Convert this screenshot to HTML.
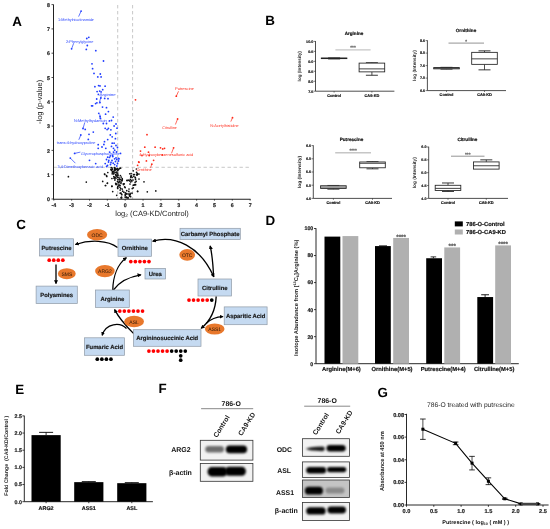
<!DOCTYPE html>
<html><head><meta charset="utf-8"><title>Figure</title>
<style>html,body{margin:0;padding:0;background:#fff;}body{width:550px;height:529px;overflow:hidden;}svg{display:block;text-rendering:geometricPrecision;font-family:"Liberation Sans",Arial,sans-serif;}</style>
</head><body>
<svg width="550" height="529" viewBox="0 0 550 529" font-family="Liberation Sans, Arial, sans-serif"><defs>
<marker id="ah" viewBox="0 0 10 10" refX="8" refY="5" markerWidth="3.1" markerHeight="3.1" orient="auto-start-reverse" markerUnits="strokeWidth"><path d="M0,0 L10,5 L0,10 z" fill="#000"/></marker>
<marker id="ahs" viewBox="0 0 10 10" refX="8" refY="5" markerWidth="3.1" markerHeight="3.1" orient="auto-start-reverse" markerUnits="strokeWidth"><path d="M0,0 L10,5 L0,10 z" fill="#000"/></marker>
<filter id="bl" x="-50%" y="-100%" width="200%" height="300%"><feGaussianBlur stdDeviation="1.15"/></filter>
</defs><text x="12.20" y="25.50" font-size="13.4" text-anchor="start" font-weight="bold" fill="#000" >A</text>
<text x="265.20" y="25.20" font-size="13.4" text-anchor="start" font-weight="bold" fill="#000" >B</text>
<text x="16.30" y="229.20" font-size="13.4" text-anchor="start" font-weight="bold" fill="#000" >C</text>
<text x="265.60" y="225.10" font-size="13.4" text-anchor="start" font-weight="bold" fill="#000" >D</text>
<text x="15.20" y="394.00" font-size="13.4" text-anchor="start" font-weight="bold" fill="#000" >E</text>
<text x="158.60" y="393.40" font-size="13.4" text-anchor="start" font-weight="bold" fill="#000" >F</text>
<text x="377.60" y="396.70" font-size="13.4" text-anchor="start" font-weight="bold" fill="#000" >G</text>
<line x1="117.70" y1="5.00" x2="117.70" y2="199.00" stroke="#b0b0b0" stroke-width="0.7" stroke-dasharray="3.4,2.6"/>
<line x1="132.60" y1="5.00" x2="132.60" y2="199.00" stroke="#b0b0b0" stroke-width="0.7" stroke-dasharray="3.4,2.6"/>
<line x1="53.50" y1="167.30" x2="250.00" y2="167.30" stroke="#b0b0b0" stroke-width="0.7" stroke-dasharray="3.4,2.6"/>
<line x1="53.50" y1="4.50" x2="53.50" y2="199.50" stroke="#222" stroke-width="1.0" />
<line x1="53.50" y1="199.20" x2="250.50" y2="199.20" stroke="#222" stroke-width="1.1" />
<line x1="51.50" y1="199.00" x2="53.50" y2="199.00" stroke="#222" stroke-width="0.8" />
<text x="50.00" y="201.20" font-size="5.3" text-anchor="end" font-weight="bold" fill="#222"  stroke="#222" stroke-width="0.18">0</text>
<line x1="51.50" y1="174.70" x2="53.50" y2="174.70" stroke="#222" stroke-width="0.8" />
<text x="50.00" y="176.90" font-size="5.3" text-anchor="end" font-weight="bold" fill="#222"  stroke="#222" stroke-width="0.18">1</text>
<line x1="51.50" y1="150.40" x2="53.50" y2="150.40" stroke="#222" stroke-width="0.8" />
<text x="50.00" y="152.60" font-size="5.3" text-anchor="end" font-weight="bold" fill="#222"  stroke="#222" stroke-width="0.18">2</text>
<line x1="51.50" y1="126.10" x2="53.50" y2="126.10" stroke="#222" stroke-width="0.8" />
<text x="50.00" y="128.30" font-size="5.3" text-anchor="end" font-weight="bold" fill="#222"  stroke="#222" stroke-width="0.18">3</text>
<line x1="51.50" y1="101.80" x2="53.50" y2="101.80" stroke="#222" stroke-width="0.8" />
<text x="50.00" y="104.00" font-size="5.3" text-anchor="end" font-weight="bold" fill="#222"  stroke="#222" stroke-width="0.18">4</text>
<line x1="51.50" y1="77.50" x2="53.50" y2="77.50" stroke="#222" stroke-width="0.8" />
<text x="50.00" y="79.70" font-size="5.3" text-anchor="end" font-weight="bold" fill="#222"  stroke="#222" stroke-width="0.18">5</text>
<line x1="51.50" y1="53.20" x2="53.50" y2="53.20" stroke="#222" stroke-width="0.8" />
<text x="50.00" y="55.40" font-size="5.3" text-anchor="end" font-weight="bold" fill="#222"  stroke="#222" stroke-width="0.18">6</text>
<line x1="51.50" y1="28.90" x2="53.50" y2="28.90" stroke="#222" stroke-width="0.8" />
<text x="50.00" y="31.10" font-size="5.3" text-anchor="end" font-weight="bold" fill="#222"  stroke="#222" stroke-width="0.18">7</text>
<line x1="51.50" y1="4.60" x2="53.50" y2="4.60" stroke="#222" stroke-width="0.8" />
<text x="50.00" y="6.80" font-size="5.3" text-anchor="end" font-weight="bold" fill="#222"  stroke="#222" stroke-width="0.18">8</text>
<line x1="53.80" y1="199.00" x2="53.80" y2="200.60" stroke="#222" stroke-width="0.8" />
<text x="53.80" y="206.80" font-size="5.3" text-anchor="middle" font-weight="bold" fill="#222"  stroke="#222" stroke-width="0.18">-4</text>
<line x1="71.65" y1="199.00" x2="71.65" y2="200.60" stroke="#222" stroke-width="0.8" />
<text x="71.65" y="206.80" font-size="5.3" text-anchor="middle" font-weight="bold" fill="#222"  stroke="#222" stroke-width="0.18">-3</text>
<line x1="89.50" y1="199.00" x2="89.50" y2="200.60" stroke="#222" stroke-width="0.8" />
<text x="89.50" y="206.80" font-size="5.3" text-anchor="middle" font-weight="bold" fill="#222"  stroke="#222" stroke-width="0.18">-2</text>
<line x1="107.35" y1="199.00" x2="107.35" y2="200.60" stroke="#222" stroke-width="0.8" />
<text x="107.35" y="206.80" font-size="5.3" text-anchor="middle" font-weight="bold" fill="#222"  stroke="#222" stroke-width="0.18">-1</text>
<line x1="125.20" y1="199.00" x2="125.20" y2="200.60" stroke="#222" stroke-width="0.8" />
<text x="125.20" y="206.80" font-size="5.3" text-anchor="middle" font-weight="bold" fill="#222"  stroke="#222" stroke-width="0.18">0</text>
<line x1="143.05" y1="199.00" x2="143.05" y2="200.60" stroke="#222" stroke-width="0.8" />
<text x="143.05" y="206.80" font-size="5.3" text-anchor="middle" font-weight="bold" fill="#222"  stroke="#222" stroke-width="0.18">1</text>
<line x1="160.90" y1="199.00" x2="160.90" y2="200.60" stroke="#222" stroke-width="0.8" />
<text x="160.90" y="206.80" font-size="5.3" text-anchor="middle" font-weight="bold" fill="#222"  stroke="#222" stroke-width="0.18">2</text>
<line x1="178.75" y1="199.00" x2="178.75" y2="200.60" stroke="#222" stroke-width="0.8" />
<text x="178.75" y="206.80" font-size="5.3" text-anchor="middle" font-weight="bold" fill="#222"  stroke="#222" stroke-width="0.18">3</text>
<line x1="196.60" y1="199.00" x2="196.60" y2="200.60" stroke="#222" stroke-width="0.8" />
<text x="196.60" y="206.80" font-size="5.3" text-anchor="middle" font-weight="bold" fill="#222"  stroke="#222" stroke-width="0.18">4</text>
<line x1="214.45" y1="199.00" x2="214.45" y2="200.60" stroke="#222" stroke-width="0.8" />
<text x="214.45" y="206.80" font-size="5.3" text-anchor="middle" font-weight="bold" fill="#222"  stroke="#222" stroke-width="0.18">5</text>
<line x1="232.30" y1="199.00" x2="232.30" y2="200.60" stroke="#222" stroke-width="0.8" />
<text x="232.30" y="206.80" font-size="5.3" text-anchor="middle" font-weight="bold" fill="#222"  stroke="#222" stroke-width="0.18">6</text>
<line x1="250.15" y1="199.00" x2="250.15" y2="200.60" stroke="#222" stroke-width="0.8" />
<text x="250.15" y="206.80" font-size="5.3" text-anchor="middle" font-weight="bold" fill="#222"  stroke="#222" stroke-width="0.18">7</text>
<text x="152" y="215.6" font-size="7.5" text-anchor="middle" fill="#222">log<tspan font-size="4.8" dy="1.6">2</tspan><tspan dy="-1.6"> (CA9-KD/Control)</tspan></text>
<text transform="translate(42.4,101.9) rotate(-90)" font-size="7.5" text-anchor="middle" fill="#222">-log (p-value)</text>
<circle cx="68.40" cy="176.70" r="0.85" fill="#111"/>
<circle cx="86.30" cy="182.10" r="0.85" fill="#111"/>
<circle cx="104.50" cy="174.00" r="0.85" fill="#111"/>
<circle cx="106.80" cy="176.40" r="0.85" fill="#111"/>
<circle cx="102.70" cy="181.40" r="0.85" fill="#111"/>
<circle cx="105.50" cy="185.50" r="0.85" fill="#111"/>
<circle cx="111.80" cy="186.40" r="0.85" fill="#111"/>
<circle cx="144.00" cy="181.80" r="0.85" fill="#111"/>
<circle cx="147.30" cy="191.80" r="0.85" fill="#111"/>
<circle cx="137.70" cy="191.40" r="0.85" fill="#111"/>
<circle cx="139.00" cy="174.00" r="0.85" fill="#111"/>
<circle cx="139.00" cy="179.00" r="0.85" fill="#111"/>
<circle cx="134.50" cy="174.50" r="0.85" fill="#111"/>
<circle cx="137.30" cy="173.60" r="0.85" fill="#111"/>
<circle cx="130.90" cy="176.80" r="0.85" fill="#111"/>
<circle cx="135.50" cy="178.00" r="0.85" fill="#111"/>
<circle cx="155.80" cy="190.90" r="0.85" fill="#111"/>
<circle cx="136.40" cy="169.00" r="0.85" fill="#111"/>
<circle cx="127.30" cy="180.50" r="0.85" fill="#111"/>
<circle cx="131.80" cy="181.00" r="0.85" fill="#111"/>
<circle cx="130.00" cy="184.00" r="0.85" fill="#111"/>
<circle cx="134.50" cy="184.50" r="0.85" fill="#111"/>
<circle cx="129.00" cy="189.00" r="0.85" fill="#111"/>
<circle cx="112.20" cy="168.10" r="0.85" fill="#111"/>
<circle cx="114.60" cy="169.50" r="0.85" fill="#111"/>
<circle cx="116.50" cy="169.20" r="0.85" fill="#111"/>
<circle cx="117.60" cy="170.30" r="0.85" fill="#111"/>
<circle cx="112.50" cy="171.60" r="0.85" fill="#111"/>
<circle cx="115.20" cy="172.50" r="0.85" fill="#111"/>
<circle cx="116.80" cy="173.00" r="0.85" fill="#111"/>
<circle cx="107.80" cy="172.50" r="0.85" fill="#111"/>
<circle cx="104.80" cy="174.40" r="0.85" fill="#111"/>
<circle cx="106.50" cy="175.70" r="0.85" fill="#111"/>
<circle cx="112.20" cy="173.80" r="0.85" fill="#111"/>
<circle cx="115.70" cy="174.60" r="0.85" fill="#111"/>
<circle cx="117.10" cy="175.50" r="0.85" fill="#111"/>
<circle cx="113.80" cy="176.50" r="0.85" fill="#111"/>
<circle cx="115.20" cy="177.10" r="0.85" fill="#111"/>
<circle cx="117.60" cy="177.40" r="0.85" fill="#111"/>
<circle cx="120.40" cy="175.50" r="0.85" fill="#111"/>
<circle cx="111.90" cy="178.50" r="0.85" fill="#111"/>
<circle cx="114.90" cy="180.10" r="0.85" fill="#111"/>
<circle cx="119.30" cy="179.80" r="0.85" fill="#111"/>
<circle cx="119.80" cy="181.50" r="0.85" fill="#111"/>
<circle cx="118.50" cy="182.30" r="0.85" fill="#111"/>
<circle cx="107.50" cy="183.10" r="0.85" fill="#111"/>
<circle cx="115.70" cy="183.40" r="0.85" fill="#111"/>
<circle cx="130.70" cy="177.10" r="0.85" fill="#111"/>
<circle cx="133.70" cy="174.60" r="0.85" fill="#111"/>
<circle cx="126.90" cy="180.40" r="0.85" fill="#111"/>
<circle cx="129.60" cy="180.90" r="0.85" fill="#111"/>
<circle cx="131.30" cy="180.40" r="0.85" fill="#111"/>
<circle cx="130.70" cy="182.00" r="0.85" fill="#111"/>
<circle cx="105.50" cy="185.50" r="0.85" fill="#111"/>
<circle cx="107.30" cy="183.30" r="0.85" fill="#111"/>
<circle cx="112.00" cy="186.20" r="0.85" fill="#111"/>
<circle cx="112.70" cy="191.60" r="0.85" fill="#111"/>
<circle cx="116.70" cy="195.30" r="0.85" fill="#111"/>
<circle cx="137.50" cy="191.30" r="0.85" fill="#111"/>
<circle cx="135.60" cy="184.70" r="0.85" fill="#111"/>
<circle cx="114.71" cy="177.54" r="0.85" fill="#111"/>
<circle cx="117.58" cy="187.68" r="0.85" fill="#111"/>
<circle cx="118.89" cy="184.11" r="0.85" fill="#111"/>
<circle cx="115.86" cy="169.30" r="0.85" fill="#111"/>
<circle cx="114.84" cy="168.66" r="0.85" fill="#111"/>
<circle cx="111.31" cy="169.67" r="0.85" fill="#111"/>
<circle cx="122.14" cy="180.66" r="0.85" fill="#111"/>
<circle cx="113.35" cy="171.34" r="0.85" fill="#111"/>
<circle cx="124.64" cy="186.95" r="0.85" fill="#111"/>
<circle cx="119.55" cy="185.39" r="0.85" fill="#111"/>
<circle cx="121.04" cy="197.76" r="0.85" fill="#111"/>
<circle cx="121.46" cy="194.11" r="0.85" fill="#111"/>
<circle cx="112.43" cy="171.97" r="0.85" fill="#111"/>
<circle cx="121.17" cy="177.06" r="0.85" fill="#111"/>
<circle cx="117.74" cy="173.10" r="0.85" fill="#111"/>
<circle cx="119.94" cy="187.31" r="0.85" fill="#111"/>
<circle cx="116.35" cy="184.48" r="0.85" fill="#111"/>
<circle cx="112.49" cy="169.35" r="0.85" fill="#111"/>
<circle cx="120.79" cy="188.59" r="0.85" fill="#111"/>
<circle cx="118.93" cy="177.24" r="0.85" fill="#111"/>
<circle cx="117.48" cy="181.55" r="0.85" fill="#111"/>
<circle cx="123.90" cy="192.13" r="0.85" fill="#111"/>
<circle cx="118.21" cy="175.07" r="0.85" fill="#111"/>
<circle cx="123.31" cy="183.78" r="0.85" fill="#111"/>
<circle cx="120.15" cy="190.11" r="0.85" fill="#111"/>
<circle cx="121.55" cy="197.89" r="0.85" fill="#111"/>
<circle cx="121.43" cy="180.46" r="0.85" fill="#111"/>
<circle cx="116.50" cy="172.21" r="0.85" fill="#111"/>
<circle cx="117.50" cy="168.72" r="0.85" fill="#111"/>
<circle cx="122.69" cy="191.20" r="0.85" fill="#111"/>
<circle cx="121.80" cy="194.64" r="0.85" fill="#111"/>
<circle cx="122.26" cy="189.05" r="0.85" fill="#111"/>
<circle cx="120.09" cy="185.48" r="0.85" fill="#111"/>
<circle cx="126.06" cy="193.54" r="0.85" fill="#111"/>
<circle cx="121.02" cy="182.20" r="0.85" fill="#111"/>
<circle cx="118.05" cy="169.38" r="0.85" fill="#111"/>
<circle cx="125.15" cy="187.56" r="0.85" fill="#111"/>
<circle cx="121.06" cy="192.98" r="0.85" fill="#111"/>
<circle cx="120.34" cy="179.46" r="0.85" fill="#111"/>
<circle cx="115.02" cy="168.20" r="0.85" fill="#111"/>
<circle cx="112.68" cy="172.71" r="0.85" fill="#111"/>
<circle cx="118.79" cy="169.33" r="0.85" fill="#111"/>
<circle cx="113.67" cy="171.51" r="0.85" fill="#111"/>
<circle cx="122.31" cy="179.62" r="0.85" fill="#111"/>
<circle cx="115.41" cy="170.00" r="0.85" fill="#111"/>
<circle cx="123.55" cy="184.53" r="0.85" fill="#111"/>
<circle cx="125.32" cy="192.90" r="0.85" fill="#111"/>
<circle cx="116.90" cy="176.13" r="0.85" fill="#111"/>
<circle cx="122.21" cy="178.62" r="0.85" fill="#111"/>
<circle cx="121.53" cy="197.19" r="0.85" fill="#111"/>
<circle cx="113.99" cy="172.96" r="0.85" fill="#111"/>
<circle cx="117.19" cy="174.73" r="0.85" fill="#111"/>
<circle cx="118.52" cy="185.76" r="0.85" fill="#111"/>
<circle cx="114.36" cy="167.63" r="0.85" fill="#111"/>
<circle cx="119.21" cy="178.95" r="0.85" fill="#111"/>
<circle cx="125.11" cy="197.05" r="0.85" fill="#111"/>
<circle cx="120.94" cy="183.48" r="0.85" fill="#111"/>
<circle cx="117.71" cy="188.46" r="0.85" fill="#111"/>
<circle cx="125.31" cy="195.39" r="0.85" fill="#111"/>
<circle cx="125.24" cy="194.61" r="0.85" fill="#111"/>
<circle cx="117.82" cy="179.66" r="0.85" fill="#111"/>
<circle cx="117.66" cy="170.71" r="0.85" fill="#111"/>
<circle cx="110.97" cy="169.43" r="0.85" fill="#111"/>
<circle cx="113.60" cy="173.97" r="0.85" fill="#111"/>
<circle cx="113.93" cy="178.04" r="0.85" fill="#111"/>
<circle cx="111.24" cy="167.51" r="0.85" fill="#111"/>
<circle cx="114.66" cy="170.65" r="0.85" fill="#111"/>
<circle cx="119.74" cy="168.29" r="0.85" fill="#111"/>
<circle cx="117.81" cy="186.54" r="0.85" fill="#111"/>
<circle cx="115.96" cy="175.32" r="0.85" fill="#111"/>
<circle cx="114.88" cy="178.79" r="0.85" fill="#111"/>
<circle cx="126.47" cy="193.82" r="0.85" fill="#111"/>
<circle cx="119.30" cy="181.95" r="0.85" fill="#111"/>
<circle cx="111.62" cy="170.16" r="0.85" fill="#111"/>
<circle cx="116.03" cy="178.12" r="0.85" fill="#111"/>
<circle cx="120.22" cy="193.19" r="0.85" fill="#111"/>
<circle cx="120.59" cy="168.22" r="0.85" fill="#111"/>
<circle cx="116.87" cy="183.88" r="0.85" fill="#111"/>
<circle cx="115.98" cy="184.34" r="0.85" fill="#111"/>
<circle cx="124.24" cy="183.87" r="0.85" fill="#111"/>
<circle cx="129.36" cy="194.60" r="0.85" fill="#111"/>
<circle cx="132.14" cy="177.44" r="0.85" fill="#111"/>
<circle cx="136.92" cy="174.76" r="0.85" fill="#111"/>
<circle cx="133.29" cy="185.18" r="0.85" fill="#111"/>
<circle cx="130.24" cy="179.40" r="0.85" fill="#111"/>
<circle cx="131.96" cy="193.13" r="0.85" fill="#111"/>
<circle cx="130.25" cy="194.30" r="0.85" fill="#111"/>
<circle cx="130.12" cy="193.32" r="0.85" fill="#111"/>
<circle cx="133.88" cy="176.46" r="0.85" fill="#111"/>
<circle cx="128.27" cy="180.13" r="0.85" fill="#111"/>
<circle cx="133.21" cy="170.80" r="0.85" fill="#111"/>
<circle cx="135.24" cy="177.39" r="0.85" fill="#111"/>
<circle cx="126.79" cy="197.26" r="0.85" fill="#111"/>
<circle cx="130.61" cy="196.71" r="0.85" fill="#111"/>
<circle cx="126.25" cy="197.22" r="0.85" fill="#111"/>
<circle cx="131.14" cy="176.28" r="0.85" fill="#111"/>
<circle cx="131.11" cy="175.61" r="0.85" fill="#111"/>
<circle cx="133.34" cy="187.79" r="0.85" fill="#111"/>
<circle cx="128.04" cy="193.95" r="0.85" fill="#111"/>
<circle cx="132.24" cy="188.61" r="0.85" fill="#111"/>
<circle cx="136.62" cy="172.42" r="0.85" fill="#111"/>
<circle cx="129.50" cy="195.93" r="0.85" fill="#111"/>
<circle cx="128.83" cy="191.38" r="0.85" fill="#111"/>
<circle cx="136.97" cy="175.09" r="0.85" fill="#111"/>
<circle cx="135.52" cy="179.48" r="0.85" fill="#111"/>
<circle cx="126.32" cy="197.69" r="0.85" fill="#111"/>
<circle cx="136.11" cy="181.44" r="0.85" fill="#111"/>
<circle cx="126.72" cy="190.66" r="0.85" fill="#111"/>
<circle cx="131.12" cy="173.62" r="0.85" fill="#111"/>
<circle cx="129.72" cy="195.79" r="0.85" fill="#111"/>
<circle cx="137.67" cy="174.17" r="0.85" fill="#111"/>
<circle cx="127.96" cy="197.94" r="0.85" fill="#111"/>
<circle cx="133.04" cy="179.99" r="0.85" fill="#111"/>
<circle cx="129.73" cy="173.73" r="0.85" fill="#111"/>
<circle cx="128.00" cy="197.67" r="0.85" fill="#111"/>
<circle cx="134.65" cy="185.01" r="0.85" fill="#111"/>
<circle cx="135.10" cy="182.36" r="0.85" fill="#111"/>
<circle cx="126.24" cy="193.55" r="0.85" fill="#111"/>
<circle cx="81.10" cy="11.10" r="0.9" fill="#1f3cff"/>
<circle cx="71.60" cy="48.80" r="0.9" fill="#1f3cff"/>
<circle cx="88.80" cy="37.30" r="0.9" fill="#1f3cff"/>
<circle cx="86.80" cy="38.50" r="0.9" fill="#1f3cff"/>
<circle cx="87.30" cy="45.50" r="0.9" fill="#1f3cff"/>
<circle cx="86.30" cy="49.40" r="0.9" fill="#1f3cff"/>
<circle cx="95.80" cy="50.70" r="0.9" fill="#1f3cff"/>
<circle cx="103.50" cy="61.00" r="0.9" fill="#1f3cff"/>
<circle cx="92.00" cy="63.80" r="0.9" fill="#1f3cff"/>
<circle cx="92.60" cy="68.70" r="0.9" fill="#1f3cff"/>
<circle cx="94.00" cy="73.40" r="0.9" fill="#1f3cff"/>
<circle cx="100.30" cy="74.00" r="0.9" fill="#1f3cff"/>
<circle cx="97.80" cy="76.90" r="0.9" fill="#1f3cff"/>
<circle cx="101.10" cy="76.90" r="0.9" fill="#1f3cff"/>
<circle cx="94.90" cy="86.70" r="0.9" fill="#1f3cff"/>
<circle cx="98.60" cy="85.60" r="0.9" fill="#1f3cff"/>
<circle cx="100.00" cy="85.90" r="0.9" fill="#1f3cff"/>
<circle cx="105.10" cy="86.20" r="0.9" fill="#1f3cff"/>
<circle cx="102.70" cy="89.70" r="0.9" fill="#1f3cff"/>
<circle cx="97.10" cy="91.60" r="0.9" fill="#1f3cff"/>
<circle cx="99.70" cy="91.10" r="0.9" fill="#1f3cff"/>
<circle cx="101.10" cy="91.90" r="0.9" fill="#1f3cff"/>
<circle cx="98.40" cy="94.40" r="0.9" fill="#1f3cff"/>
<circle cx="100.90" cy="98.00" r="0.9" fill="#1f3cff"/>
<circle cx="104.70" cy="98.40" r="0.9" fill="#1f3cff"/>
<circle cx="108.00" cy="98.70" r="0.9" fill="#1f3cff"/>
<circle cx="96.70" cy="99.00" r="0.9" fill="#1f3cff"/>
<circle cx="100.00" cy="102.50" r="0.9" fill="#1f3cff"/>
<circle cx="95.60" cy="103.60" r="0.9" fill="#1f3cff"/>
<circle cx="96.90" cy="102.80" r="0.9" fill="#1f3cff"/>
<circle cx="91.60" cy="105.80" r="0.9" fill="#1f3cff"/>
<circle cx="92.60" cy="105.80" r="0.9" fill="#1f3cff"/>
<circle cx="102.50" cy="107.10" r="0.9" fill="#1f3cff"/>
<circle cx="106.50" cy="107.70" r="0.9" fill="#1f3cff"/>
<circle cx="108.40" cy="111.60" r="0.9" fill="#1f3cff"/>
<circle cx="98.80" cy="113.30" r="0.9" fill="#1f3cff"/>
<circle cx="105.60" cy="114.20" r="0.9" fill="#1f3cff"/>
<circle cx="113.20" cy="117.10" r="0.9" fill="#1f3cff"/>
<circle cx="100.10" cy="116.50" r="0.9" fill="#1f3cff"/>
<circle cx="100.50" cy="118.40" r="0.9" fill="#1f3cff"/>
<circle cx="109.40" cy="120.90" r="0.9" fill="#1f3cff"/>
<circle cx="103.30" cy="123.50" r="0.9" fill="#1f3cff"/>
<circle cx="106.50" cy="123.50" r="0.9" fill="#1f3cff"/>
<circle cx="83.00" cy="128.50" r="0.9" fill="#1f3cff"/>
<circle cx="85.20" cy="129.40" r="0.9" fill="#1f3cff"/>
<circle cx="105.20" cy="128.30" r="0.9" fill="#1f3cff"/>
<circle cx="107.10" cy="129.60" r="0.9" fill="#1f3cff"/>
<circle cx="108.40" cy="128.50" r="0.9" fill="#1f3cff"/>
<circle cx="110.90" cy="129.80" r="0.9" fill="#1f3cff"/>
<circle cx="114.10" cy="126.00" r="0.9" fill="#1f3cff"/>
<circle cx="117.00" cy="128.20" r="0.9" fill="#1f3cff"/>
<circle cx="93.30" cy="132.10" r="0.9" fill="#1f3cff"/>
<circle cx="89.00" cy="134.30" r="0.9" fill="#1f3cff"/>
<circle cx="110.30" cy="134.90" r="0.9" fill="#1f3cff"/>
<circle cx="112.20" cy="136.80" r="0.9" fill="#1f3cff"/>
<circle cx="115.40" cy="138.70" r="0.9" fill="#1f3cff"/>
<circle cx="88.30" cy="139.40" r="0.9" fill="#1f3cff"/>
<circle cx="107.70" cy="139.60" r="0.9" fill="#1f3cff"/>
<circle cx="104.50" cy="141.70" r="0.9" fill="#1f3cff"/>
<circle cx="98.20" cy="144.70" r="0.9" fill="#1f3cff"/>
<circle cx="103.90" cy="144.50" r="0.9" fill="#1f3cff"/>
<circle cx="112.20" cy="143.20" r="0.9" fill="#1f3cff"/>
<circle cx="114.10" cy="143.20" r="0.9" fill="#1f3cff"/>
<circle cx="116.00" cy="145.50" r="0.9" fill="#1f3cff"/>
<circle cx="102.00" cy="147.00" r="0.9" fill="#1f3cff"/>
<circle cx="98.20" cy="148.30" r="0.9" fill="#1f3cff"/>
<circle cx="105.80" cy="148.30" r="0.9" fill="#1f3cff"/>
<circle cx="111.50" cy="146.40" r="0.9" fill="#1f3cff"/>
<circle cx="113.50" cy="148.30" r="0.9" fill="#1f3cff"/>
<circle cx="109.60" cy="152.10" r="0.9" fill="#1f3cff"/>
<circle cx="114.70" cy="150.20" r="0.9" fill="#1f3cff"/>
<circle cx="113.50" cy="152.10" r="0.9" fill="#1f3cff"/>
<circle cx="120.50" cy="153.40" r="0.9" fill="#1f3cff"/>
<circle cx="74.60" cy="153.40" r="0.9" fill="#1f3cff"/>
<circle cx="107.70" cy="157.20" r="0.9" fill="#1f3cff"/>
<circle cx="110.30" cy="155.90" r="0.9" fill="#1f3cff"/>
<circle cx="112.80" cy="156.50" r="0.9" fill="#1f3cff"/>
<circle cx="116.00" cy="157.80" r="0.9" fill="#1f3cff"/>
<circle cx="118.50" cy="158.50" r="0.9" fill="#1f3cff"/>
<circle cx="70.30" cy="158.10" r="0.9" fill="#1f3cff"/>
<circle cx="89.50" cy="160.30" r="0.9" fill="#1f3cff"/>
<circle cx="95.70" cy="163.60" r="0.9" fill="#1f3cff"/>
<circle cx="105.20" cy="163.60" r="0.9" fill="#1f3cff"/>
<circle cx="106.60" cy="166.50" r="0.9" fill="#1f3cff"/>
<circle cx="108.80" cy="160.30" r="0.9" fill="#1f3cff"/>
<circle cx="111.00" cy="162.50" r="0.9" fill="#1f3cff"/>
<circle cx="113.20" cy="163.20" r="0.9" fill="#1f3cff"/>
<circle cx="114.60" cy="164.60" r="0.9" fill="#1f3cff"/>
<circle cx="109.50" cy="157.40" r="0.9" fill="#1f3cff"/>
<circle cx="112.50" cy="155.50" r="0.9" fill="#1f3cff"/>
<circle cx="114.60" cy="158.80" r="0.9" fill="#1f3cff"/>
<circle cx="116.80" cy="159.50" r="0.9" fill="#1f3cff"/>
<circle cx="119.00" cy="158.80" r="0.9" fill="#1f3cff"/>
<circle cx="80.80" cy="135.00" r="0.9" fill="#1f3cff"/>
<circle cx="116.50" cy="152.00" r="0.9" fill="#1f3cff"/>
<circle cx="117.50" cy="147.50" r="0.9" fill="#1f3cff"/>
<circle cx="115.80" cy="133.50" r="0.9" fill="#1f3cff"/>
<circle cx="111.50" cy="120.50" r="0.9" fill="#1f3cff"/>
<circle cx="116.00" cy="124.00" r="0.9" fill="#1f3cff"/>
<circle cx="106.50" cy="159.50" r="0.9" fill="#1f3cff"/>
<circle cx="108.50" cy="162.00" r="0.9" fill="#1f3cff"/>
<circle cx="110.50" cy="164.50" r="0.9" fill="#1f3cff"/>
<circle cx="112.00" cy="160.50" r="0.9" fill="#1f3cff"/>
<circle cx="115.50" cy="161.50" r="0.9" fill="#1f3cff"/>
<circle cx="117.50" cy="163.50" r="0.9" fill="#1f3cff"/>
<circle cx="116.80" cy="166.00" r="0.9" fill="#1f3cff"/>
<circle cx="107.50" cy="165.50" r="0.9" fill="#1f3cff"/>
<circle cx="118.50" cy="161.00" r="0.9" fill="#1f3cff"/>
<circle cx="135.50" cy="99.80" r="0.9" fill="#ff2a1a"/>
<circle cx="176.30" cy="96.20" r="0.9" fill="#ff2a1a"/>
<circle cx="177.60" cy="119.00" r="0.9" fill="#ff2a1a"/>
<circle cx="232.50" cy="117.70" r="0.9" fill="#ff2a1a"/>
<circle cx="147.00" cy="134.70" r="0.9" fill="#ff2a1a"/>
<circle cx="144.80" cy="147.20" r="0.9" fill="#ff2a1a"/>
<circle cx="155.10" cy="147.20" r="0.9" fill="#ff2a1a"/>
<circle cx="160.50" cy="147.80" r="0.9" fill="#ff2a1a"/>
<circle cx="162.70" cy="148.90" r="0.9" fill="#ff2a1a"/>
<circle cx="164.50" cy="148.30" r="0.9" fill="#ff2a1a"/>
<circle cx="173.60" cy="147.80" r="0.9" fill="#ff2a1a"/>
<circle cx="140.50" cy="151.10" r="0.9" fill="#ff2a1a"/>
<circle cx="148.50" cy="152.20" r="0.9" fill="#ff2a1a"/>
<circle cx="142.00" cy="155.50" r="0.9" fill="#ff2a1a"/>
<circle cx="149.20" cy="155.50" r="0.9" fill="#ff2a1a"/>
<circle cx="162.30" cy="155.00" r="0.9" fill="#ff2a1a"/>
<circle cx="138.70" cy="162.00" r="0.9" fill="#ff2a1a"/>
<circle cx="146.40" cy="160.90" r="0.9" fill="#ff2a1a"/>
<circle cx="153.60" cy="160.30" r="0.9" fill="#ff2a1a"/>
<circle cx="151.80" cy="164.20" r="0.9" fill="#ff2a1a"/>
<circle cx="137.60" cy="165.30" r="0.9" fill="#ff2a1a"/>
<circle cx="139.00" cy="162.30" r="0.9" fill="#ff2a1a"/>
<text x="57.90" y="21.00" font-size="3.9" text-anchor="start" fill="#1f3cff"  textLength="36.0" lengthAdjust="spacingAndGlyphs">1-Methylnicotinamide</text>
<line x1="81.10" y1="11.10" x2="78.60" y2="16.60" stroke="#1f3cff" stroke-width="0.7" />
<text x="65.90" y="42.60" font-size="3.9" text-anchor="start" fill="#1f3cff"  textLength="27.5" lengthAdjust="spacingAndGlyphs">2-Phenylglycine</text>
<line x1="71.60" y1="48.80" x2="73.70" y2="43.20" stroke="#1f3cff" stroke-width="0.7" />
<text x="99.50" y="96.40" font-size="3.9" text-anchor="start" fill="#1f3cff"  textLength="16.3" lengthAdjust="spacingAndGlyphs">Arginine</text>
<line x1="101.10" y1="96.20" x2="99.20" y2="103.40" stroke="#1f3cff" stroke-width="0.7" />
<text x="73.90" y="121.60" font-size="3.9" text-anchor="start" fill="#1f3cff"  textLength="32.9" lengthAdjust="spacingAndGlyphs">N-Methylhydantoin</text>
<line x1="99.80" y1="114.30" x2="100.20" y2="119.20" stroke="#1f3cff" stroke-width="0.7" />
<line x1="84.80" y1="122.40" x2="83.00" y2="128.50" stroke="#1f3cff" stroke-width="0.7" />
<text x="56.80" y="144.40" font-size="3.9" text-anchor="start" fill="#1f3cff"  textLength="38.7" lengthAdjust="spacingAndGlyphs">trans-4-hydroxyproline</text>
<line x1="80.80" y1="135.00" x2="78.80" y2="139.80" stroke="#1f3cff" stroke-width="0.7" />
<text x="81.00" y="154.50" font-size="3.9" text-anchor="start" fill="#1f3cff"  textLength="38.8" lengthAdjust="spacingAndGlyphs">Glycerophosphocholine</text>
<line x1="74.60" y1="153.40" x2="80.40" y2="152.10" stroke="#1f3cff" stroke-width="0.7" />
<text x="57.60" y="167.90" font-size="3.9" text-anchor="start" fill="#1f3cff"  textLength="45.4" lengthAdjust="spacingAndGlyphs">3,4-Dimethoxybenzoic acid</text>
<line x1="70.30" y1="158.10" x2="75.40" y2="163.20" stroke="#1f3cff" stroke-width="0.7" />
<text x="175.00" y="90.00" font-size="3.9" text-anchor="start" fill="#ff2a1a"  textLength="19.0" lengthAdjust="spacingAndGlyphs">Putrescine</text>
<line x1="176.30" y1="96.20" x2="178.50" y2="91.30" stroke="#ff2a1a" stroke-width="0.7" />
<text x="162.30" y="128.90" font-size="3.9" text-anchor="start" fill="#ff2a1a"  textLength="14.6" lengthAdjust="spacingAndGlyphs">Citrulline</text>
<line x1="177.60" y1="119.00" x2="175.40" y2="124.50" stroke="#ff2a1a" stroke-width="0.7" />
<text x="210.30" y="127.40" font-size="3.9" text-anchor="start" fill="#ff2a1a"  textLength="28.4" lengthAdjust="spacingAndGlyphs">N-Acetylhistidine</text>
<line x1="232.50" y1="117.70" x2="230.80" y2="121.60" stroke="#ff2a1a" stroke-width="0.7" />
<text x="139.20" y="156.40" font-size="3.9" text-anchor="start" fill="#ff2a1a"  textLength="54.1" lengthAdjust="spacingAndGlyphs">4-Hydroxybenzenesulfonic acid</text>
<line x1="173.60" y1="147.80" x2="171.50" y2="153.30" stroke="#ff2a1a" stroke-width="0.7" />
<text x="136.50" y="171.00" font-size="3.9" text-anchor="start" fill="#ff2a1a"  textLength="15.3" lengthAdjust="spacingAndGlyphs">Ornithine</text>
<line x1="151.80" y1="164.20" x2="150.50" y2="167.80" stroke="#ff2a1a" stroke-width="0.7" />
<line x1="315.50" y1="41.10" x2="315.50" y2="91.20" stroke="#222" stroke-width="0.8" />
<line x1="315.50" y1="91.20" x2="394.40" y2="91.20" stroke="#222" stroke-width="0.8" />
<line x1="313.70" y1="91.20" x2="315.50" y2="91.20" stroke="#222" stroke-width="0.6" />
<text x="313.30" y="92.50" font-size="3.7" text-anchor="end" font-weight="bold" fill="#222"  stroke="#222" stroke-width="0.18">7.5</text>
<line x1="313.70" y1="81.24" x2="315.50" y2="81.24" stroke="#222" stroke-width="0.6" />
<text x="313.30" y="82.54" font-size="3.7" text-anchor="end" font-weight="bold" fill="#222"  stroke="#222" stroke-width="0.18">8.0</text>
<line x1="313.70" y1="71.28" x2="315.50" y2="71.28" stroke="#222" stroke-width="0.6" />
<text x="313.30" y="72.58" font-size="3.7" text-anchor="end" font-weight="bold" fill="#222"  stroke="#222" stroke-width="0.18">8.5</text>
<line x1="313.70" y1="61.32" x2="315.50" y2="61.32" stroke="#222" stroke-width="0.6" />
<text x="313.30" y="62.62" font-size="3.7" text-anchor="end" font-weight="bold" fill="#222"  stroke="#222" stroke-width="0.18">9.0</text>
<line x1="313.70" y1="51.36" x2="315.50" y2="51.36" stroke="#222" stroke-width="0.6" />
<text x="313.30" y="52.66" font-size="3.7" text-anchor="end" font-weight="bold" fill="#222"  stroke="#222" stroke-width="0.18">9.5</text>
<line x1="313.70" y1="41.40" x2="315.50" y2="41.40" stroke="#222" stroke-width="0.6" />
<text x="313.30" y="42.70" font-size="3.7" text-anchor="end" font-weight="bold" fill="#222"  stroke="#222" stroke-width="0.18">10.0</text>
<text x="354.00" y="35.30" font-size="4.6" text-anchor="middle" font-weight="bold" fill="#111"  stroke="#111" stroke-width="0.18">Arginine</text>
<text transform="translate(301.2,66.30) rotate(-90)" font-size="4.6" font-weight="bold" text-anchor="middle" fill="#222" textLength="30.2" lengthAdjust="spacingAndGlyphs">log (Intensity)</text>
<line x1="334.10" y1="91.20" x2="334.10" y2="92.60" stroke="#222" stroke-width="0.6" />
<text x="334.10" y="96.80" font-size="3.9" text-anchor="middle" font-weight="bold" fill="#111"  stroke="#111" stroke-width="0.18">Control</text>
<line x1="334.10" y1="57.93" x2="334.10" y2="58.03" stroke="#222" stroke-width="0.8" />
<line x1="328.10" y1="57.93" x2="340.10" y2="57.93" stroke="#222" stroke-width="0.9" />
<line x1="334.10" y1="58.63" x2="334.10" y2="58.93" stroke="#222" stroke-width="0.8" />
<line x1="328.10" y1="58.93" x2="340.10" y2="58.93" stroke="#222" stroke-width="0.9" />
<rect x="321.30" y="58.03" width="25.60" height="0.60" fill="#fff" stroke="#222" stroke-width="0.85" />
<line x1="321.30" y1="58.33" x2="346.90" y2="58.33" stroke="#222" stroke-width="0.85" />
<line x1="371.90" y1="91.20" x2="371.90" y2="92.60" stroke="#222" stroke-width="0.6" />
<text x="371.90" y="96.80" font-size="3.9" text-anchor="middle" font-weight="bold" fill="#111"  stroke="#111" stroke-width="0.18">CA9-KD</text>
<line x1="371.90" y1="62.71" x2="371.90" y2="63.11" stroke="#222" stroke-width="0.8" />
<line x1="365.90" y1="62.71" x2="377.90" y2="62.71" stroke="#222" stroke-width="0.9" />
<line x1="371.90" y1="71.88" x2="371.90" y2="75.26" stroke="#222" stroke-width="0.8" />
<line x1="365.90" y1="75.26" x2="377.90" y2="75.26" stroke="#222" stroke-width="0.9" />
<rect x="359.10" y="63.11" width="25.60" height="8.76" fill="#fff" stroke="#222" stroke-width="0.85" />
<line x1="359.10" y1="68.89" x2="384.70" y2="68.89" stroke="#222" stroke-width="0.85" />
<line x1="335.40" y1="49.90" x2="370.60" y2="49.90" stroke="#c6c6c6" stroke-width="1.4" />
<text x="353.00" y="49.30" font-size="4.6" text-anchor="middle" font-weight="bold" fill="#666"  stroke="#666" stroke-width="0.18">***</text>
<line x1="427.40" y1="40.30" x2="427.40" y2="90.60" stroke="#222" stroke-width="0.8" />
<line x1="427.40" y1="90.60" x2="506.00" y2="90.60" stroke="#222" stroke-width="0.8" />
<line x1="425.60" y1="90.60" x2="427.40" y2="90.60" stroke="#222" stroke-width="0.6" />
<text x="425.20" y="91.90" font-size="3.7" text-anchor="end" font-weight="bold" fill="#222"  stroke="#222" stroke-width="0.18">6.5</text>
<line x1="425.60" y1="78.10" x2="427.40" y2="78.10" stroke="#222" stroke-width="0.6" />
<text x="425.20" y="79.40" font-size="3.7" text-anchor="end" font-weight="bold" fill="#222"  stroke="#222" stroke-width="0.18">7.0</text>
<line x1="425.60" y1="65.60" x2="427.40" y2="65.60" stroke="#222" stroke-width="0.6" />
<text x="425.20" y="66.90" font-size="3.7" text-anchor="end" font-weight="bold" fill="#222"  stroke="#222" stroke-width="0.18">7.5</text>
<line x1="425.60" y1="53.10" x2="427.40" y2="53.10" stroke="#222" stroke-width="0.6" />
<text x="425.20" y="54.40" font-size="3.7" text-anchor="end" font-weight="bold" fill="#222"  stroke="#222" stroke-width="0.18">8.0</text>
<line x1="425.60" y1="40.60" x2="427.40" y2="40.60" stroke="#222" stroke-width="0.6" />
<text x="425.20" y="41.90" font-size="3.7" text-anchor="end" font-weight="bold" fill="#222"  stroke="#222" stroke-width="0.18">8.5</text>
<text x="466.00" y="31.80" font-size="4.6" text-anchor="middle" font-weight="bold" fill="#111"  stroke="#111" stroke-width="0.18">Ornithine</text>
<text transform="translate(415.6,65.60) rotate(-90)" font-size="4.6" font-weight="bold" text-anchor="middle" fill="#222" textLength="30.6" lengthAdjust="spacingAndGlyphs">log (Intensity)</text>
<line x1="446.50" y1="90.60" x2="446.50" y2="92.00" stroke="#222" stroke-width="0.6" />
<text x="446.50" y="96.20" font-size="3.9" text-anchor="middle" font-weight="bold" fill="#111"  stroke="#111" stroke-width="0.18">Control</text>
<line x1="446.50" y1="67.35" x2="446.50" y2="67.60" stroke="#222" stroke-width="0.8" />
<line x1="440.50" y1="67.35" x2="452.50" y2="67.35" stroke="#222" stroke-width="0.9" />
<line x1="446.50" y1="68.85" x2="446.50" y2="69.10" stroke="#222" stroke-width="0.8" />
<line x1="440.50" y1="69.10" x2="452.50" y2="69.10" stroke="#222" stroke-width="0.9" />
<rect x="433.70" y="67.60" width="25.60" height="1.25" fill="#fff" stroke="#222" stroke-width="0.85" />
<line x1="433.70" y1="68.10" x2="459.30" y2="68.10" stroke="#222" stroke-width="0.85" />
<line x1="484.50" y1="90.60" x2="484.50" y2="92.00" stroke="#222" stroke-width="0.6" />
<text x="484.50" y="96.20" font-size="3.9" text-anchor="middle" font-weight="bold" fill="#111"  stroke="#111" stroke-width="0.18">CA9-KD</text>
<line x1="484.50" y1="50.85" x2="484.50" y2="52.35" stroke="#222" stroke-width="0.8" />
<line x1="478.50" y1="50.85" x2="490.50" y2="50.85" stroke="#222" stroke-width="0.9" />
<line x1="484.50" y1="64.35" x2="484.50" y2="69.85" stroke="#222" stroke-width="0.8" />
<line x1="478.50" y1="69.85" x2="490.50" y2="69.85" stroke="#222" stroke-width="0.9" />
<rect x="471.70" y="52.35" width="25.60" height="12.00" fill="#fff" stroke="#222" stroke-width="0.85" />
<line x1="471.70" y1="58.85" x2="497.30" y2="58.85" stroke="#222" stroke-width="0.85" />
<line x1="448.50" y1="43.10" x2="484.00" y2="43.10" stroke="#888" stroke-width="0.9" />
<text x="466.25" y="42.50" font-size="4.6" text-anchor="middle" font-weight="bold" fill="#666"  stroke="#666" stroke-width="0.18">*</text>
<line x1="313.30" y1="145.30" x2="313.30" y2="198.40" stroke="#222" stroke-width="0.8" />
<line x1="313.30" y1="198.40" x2="392.00" y2="198.40" stroke="#222" stroke-width="0.8" />
<line x1="311.50" y1="198.40" x2="313.30" y2="198.40" stroke="#222" stroke-width="0.6" />
<text x="311.10" y="199.70" font-size="3.7" text-anchor="end" font-weight="bold" fill="#222"  stroke="#222" stroke-width="0.18">4.5</text>
<line x1="311.50" y1="185.20" x2="313.30" y2="185.20" stroke="#222" stroke-width="0.6" />
<text x="311.10" y="186.50" font-size="3.7" text-anchor="end" font-weight="bold" fill="#222"  stroke="#222" stroke-width="0.18">5.0</text>
<line x1="311.50" y1="172.00" x2="313.30" y2="172.00" stroke="#222" stroke-width="0.6" />
<text x="311.10" y="173.30" font-size="3.7" text-anchor="end" font-weight="bold" fill="#222"  stroke="#222" stroke-width="0.18">5.5</text>
<line x1="311.50" y1="158.80" x2="313.30" y2="158.80" stroke="#222" stroke-width="0.6" />
<text x="311.10" y="160.10" font-size="3.7" text-anchor="end" font-weight="bold" fill="#222"  stroke="#222" stroke-width="0.18">6.0</text>
<line x1="311.50" y1="145.60" x2="313.30" y2="145.60" stroke="#222" stroke-width="0.6" />
<text x="311.10" y="146.90" font-size="3.7" text-anchor="end" font-weight="bold" fill="#222"  stroke="#222" stroke-width="0.18">6.5</text>
<text x="351.50" y="141.30" font-size="4.6" text-anchor="middle" font-weight="bold" fill="#111"  stroke="#111" stroke-width="0.18">Putrescine</text>
<text transform="translate(301.0,172.00) rotate(-90)" font-size="4.6" font-weight="bold" text-anchor="middle" fill="#222" textLength="32.3" lengthAdjust="spacingAndGlyphs">log (Intensity)</text>
<line x1="333.40" y1="198.40" x2="333.40" y2="199.80" stroke="#222" stroke-width="0.6" />
<text x="333.40" y="204.00" font-size="3.9" text-anchor="middle" font-weight="bold" fill="#111"  stroke="#111" stroke-width="0.18">Control</text>
<line x1="333.40" y1="185.46" x2="333.40" y2="185.73" stroke="#222" stroke-width="0.8" />
<line x1="327.40" y1="185.46" x2="339.40" y2="185.46" stroke="#222" stroke-width="0.9" />
<line x1="333.40" y1="188.50" x2="333.40" y2="189.16" stroke="#222" stroke-width="0.8" />
<line x1="327.40" y1="189.16" x2="339.40" y2="189.16" stroke="#222" stroke-width="0.9" />
<rect x="320.60" y="185.73" width="25.60" height="2.77" fill="#fff" stroke="#222" stroke-width="0.85" />
<line x1="320.60" y1="187.05" x2="346.20" y2="187.05" stroke="#222" stroke-width="0.85" />
<line x1="372.50" y1="198.40" x2="372.50" y2="199.80" stroke="#222" stroke-width="0.6" />
<text x="372.50" y="204.00" font-size="3.9" text-anchor="middle" font-weight="bold" fill="#111"  stroke="#111" stroke-width="0.18">CA9-KD</text>
<line x1="372.50" y1="161.70" x2="372.50" y2="161.97" stroke="#222" stroke-width="0.8" />
<line x1="366.50" y1="161.70" x2="378.50" y2="161.70" stroke="#222" stroke-width="0.9" />
<line x1="372.50" y1="167.78" x2="372.50" y2="168.83" stroke="#222" stroke-width="0.8" />
<line x1="366.50" y1="168.83" x2="378.50" y2="168.83" stroke="#222" stroke-width="0.9" />
<rect x="359.70" y="161.97" width="25.60" height="5.81" fill="#fff" stroke="#222" stroke-width="0.85" />
<line x1="359.70" y1="163.29" x2="385.30" y2="163.29" stroke="#222" stroke-width="0.85" />
<line x1="335.20" y1="152.70" x2="371.00" y2="152.70" stroke="#c6c6c6" stroke-width="1.4" />
<text x="353.10" y="152.10" font-size="4.6" text-anchor="middle" font-weight="bold" fill="#666"  stroke="#666" stroke-width="0.18">****</text>
<line x1="428.70" y1="146.70" x2="428.70" y2="198.40" stroke="#222" stroke-width="0.8" />
<line x1="428.70" y1="198.40" x2="508.00" y2="198.40" stroke="#222" stroke-width="0.8" />
<line x1="426.90" y1="198.40" x2="428.70" y2="198.40" stroke="#222" stroke-width="0.6" />
<text x="426.50" y="199.70" font-size="3.7" text-anchor="end" font-weight="bold" fill="#222"  stroke="#222" stroke-width="0.18">4.0</text>
<line x1="426.90" y1="185.55" x2="428.70" y2="185.55" stroke="#222" stroke-width="0.6" />
<text x="426.50" y="186.85" font-size="3.7" text-anchor="end" font-weight="bold" fill="#222"  stroke="#222" stroke-width="0.18">4.5</text>
<line x1="426.90" y1="172.70" x2="428.70" y2="172.70" stroke="#222" stroke-width="0.6" />
<text x="426.50" y="174.00" font-size="3.7" text-anchor="end" font-weight="bold" fill="#222"  stroke="#222" stroke-width="0.18">5.0</text>
<line x1="426.90" y1="159.85" x2="428.70" y2="159.85" stroke="#222" stroke-width="0.6" />
<text x="426.50" y="161.15" font-size="3.7" text-anchor="end" font-weight="bold" fill="#222"  stroke="#222" stroke-width="0.18">5.5</text>
<line x1="426.90" y1="147.00" x2="428.70" y2="147.00" stroke="#222" stroke-width="0.6" />
<text x="426.50" y="148.30" font-size="3.7" text-anchor="end" font-weight="bold" fill="#222"  stroke="#222" stroke-width="0.18">6.0</text>
<text x="467.40" y="140.80" font-size="4.6" text-anchor="middle" font-weight="bold" fill="#111"  stroke="#111" stroke-width="0.18">Citrulline</text>
<text transform="translate(415.6,172.70) rotate(-90)" font-size="4.6" font-weight="bold" text-anchor="middle" fill="#222" textLength="31" lengthAdjust="spacingAndGlyphs">log (Intensity)</text>
<line x1="448.00" y1="198.40" x2="448.00" y2="199.80" stroke="#222" stroke-width="0.6" />
<text x="448.00" y="204.00" font-size="3.9" text-anchor="middle" font-weight="bold" fill="#111"  stroke="#111" stroke-width="0.18">Control</text>
<line x1="448.00" y1="182.98" x2="448.00" y2="185.29" stroke="#222" stroke-width="0.8" />
<line x1="442.00" y1="182.98" x2="454.00" y2="182.98" stroke="#222" stroke-width="0.9" />
<line x1="448.00" y1="190.43" x2="448.00" y2="191.46" stroke="#222" stroke-width="0.8" />
<line x1="442.00" y1="191.46" x2="454.00" y2="191.46" stroke="#222" stroke-width="0.9" />
<rect x="435.20" y="185.29" width="25.60" height="5.14" fill="#fff" stroke="#222" stroke-width="0.85" />
<line x1="435.20" y1="188.38" x2="460.80" y2="188.38" stroke="#222" stroke-width="0.85" />
<line x1="486.30" y1="198.40" x2="486.30" y2="199.80" stroke="#222" stroke-width="0.6" />
<text x="486.30" y="204.00" font-size="3.9" text-anchor="middle" font-weight="bold" fill="#111"  stroke="#111" stroke-width="0.18">CA9-KD</text>
<line x1="486.30" y1="159.85" x2="486.30" y2="161.91" stroke="#222" stroke-width="0.8" />
<line x1="480.30" y1="159.85" x2="492.30" y2="159.85" stroke="#222" stroke-width="0.9" />
<rect x="473.50" y="161.91" width="25.60" height="7.20" fill="#fff" stroke="#222" stroke-width="0.85" />
<line x1="473.50" y1="165.76" x2="499.10" y2="165.76" stroke="#222" stroke-width="0.85" />
<line x1="451.00" y1="156.20" x2="484.50" y2="156.20" stroke="#888" stroke-width="0.9" />
<text x="467.75" y="155.60" font-size="4.6" text-anchor="middle" font-weight="bold" fill="#666"  stroke="#666" stroke-width="0.18">***</text>
<path d="M117.5,247.5 C108,240 90,239.5 75.5,244.5" fill="none" stroke="#000" stroke-width="1.3" marker-end="url(#ah)"/>
<path d="M56,264.5 L56,283.5" fill="none" stroke="#000" stroke-width="1.3" marker-end="url(#ah)"/>
<path d="M112.8,289.9 C113,276 118,264 126.3,257.8" fill="none" stroke="#000" stroke-width="1.3" marker-end="url(#ah)"/>
<path d="M113.5,289.9 C119,282 128,277 140.8,274.8" fill="none" stroke="#000" stroke-width="1.3" marker-end="url(#ah)"/>
<path d="M152.8,241.2 C175,235 200,246 213.8,276.8" fill="none" stroke="#000" stroke-width="1.3" marker-start="url(#ahs)" marker-end="url(#ah)"/>
<path d="M213.6,277 C213,263 212,254 210.2,246.0" fill="none" stroke="#000" stroke-width="1.3" marker-end="url(#ah)"/>
<path d="M216.2,296.4 C215.5,312 209,322 201.2,328.3" fill="none" stroke="#000" stroke-width="1.3" marker-end="url(#ah)"/>
<path d="M206.3,323.3 C211,318.8 216,316.9 222.8,316.6" fill="none" stroke="#000" stroke-width="1.3" marker-end="url(#ah)"/>
<path d="M133.7,333.6 C126,326 119,318 114.6,309.6" fill="none" stroke="#000" stroke-width="1.3" marker-end="url(#ah)"/>
<path d="M126.5,328.5 C120,322 106,323 102.2,335.2" fill="none" stroke="#000" stroke-width="1.3" marker-end="url(#ah)"/>
<rect x="39.40" y="238.80" width="34.20" height="17.20" fill="#c5daf1" stroke="#8f9aa6" stroke-width="0.7" />
<text x="56.50" y="249.50" font-size="5.9" text-anchor="middle" font-weight="bold" fill="#1a1a1a"  stroke="#1a1a1a" stroke-width="0.18">Putrescine</text>
<rect x="118.00" y="239.10" width="33.60" height="17.20" fill="#c5daf1" stroke="#8f9aa6" stroke-width="0.7" />
<text x="134.80" y="249.80" font-size="5.9" text-anchor="middle" font-weight="bold" fill="#1a1a1a"  stroke="#1a1a1a" stroke-width="0.18">Ornithine</text>
<rect x="180.00" y="228.30" width="60.30" height="11.30" fill="#c5daf1" stroke="#8f9aa6" stroke-width="0.7" />
<text x="210.15" y="236.05" font-size="5.9" text-anchor="middle" font-weight="bold" fill="#1a1a1a"  stroke="#1a1a1a" stroke-width="0.18">Carbamyl Phosphate</text>
<rect x="145.00" y="268.40" width="20.60" height="10.60" fill="#c5daf1" stroke="#8f9aa6" stroke-width="0.7" />
<text x="155.30" y="275.80" font-size="5.9" text-anchor="middle" font-weight="bold" fill="#1a1a1a"  stroke="#1a1a1a" stroke-width="0.18">Urea</text>
<rect x="198.00" y="279.00" width="33.50" height="17.00" fill="#c5daf1" stroke="#8f9aa6" stroke-width="0.7" />
<text x="214.75" y="289.60" font-size="5.9" text-anchor="middle" font-weight="bold" fill="#1a1a1a"  stroke="#1a1a1a" stroke-width="0.18">Citrulline</text>
<rect x="36.10" y="286.10" width="41.20" height="17.50" fill="#c5daf1" stroke="#8f9aa6" stroke-width="0.7" />
<text x="56.70" y="296.95" font-size="5.9" text-anchor="middle" font-weight="bold" fill="#1a1a1a"  stroke="#1a1a1a" stroke-width="0.18">Polyamines</text>
<rect x="95.40" y="290.00" width="33.90" height="17.40" fill="#c5daf1" stroke="#8f9aa6" stroke-width="0.7" />
<text x="112.35" y="300.80" font-size="5.9" text-anchor="middle" font-weight="bold" fill="#1a1a1a"  stroke="#1a1a1a" stroke-width="0.18">Arginine</text>
<rect x="224.20" y="306.90" width="42.90" height="17.80" fill="#c5daf1" stroke="#8f9aa6" stroke-width="0.7" />
<text x="245.65" y="317.90" font-size="5.9" text-anchor="middle" font-weight="bold" fill="#1a1a1a"  stroke="#1a1a1a" stroke-width="0.18">Asparitic Acid</text>
<rect x="133.50" y="329.70" width="67.50" height="16.60" fill="#c5daf1" stroke="#8f9aa6" stroke-width="0.7" />
<text x="167.25" y="340.10" font-size="5.9" text-anchor="middle" font-weight="bold" fill="#1a1a1a"  stroke="#1a1a1a" stroke-width="0.18">Argininosuccinic Acid</text>
<rect x="84.50" y="337.80" width="40.00" height="17.50" fill="#c5daf1" stroke="#8f9aa6" stroke-width="0.7" />
<text x="104.50" y="348.65" font-size="5.9" text-anchor="middle" font-weight="bold" fill="#1a1a1a"  stroke="#1a1a1a" stroke-width="0.18">Fumaric Acid</text>
<ellipse cx="97.1" cy="234.7" rx="10.1" ry="5.7" fill="#e8782c"/>
<text x="97.10" y="236.80" font-size="5.0" text-anchor="middle" fill="#2a1606" >ODC</text>
<ellipse cx="66.8" cy="273.7" rx="8.9" ry="5.5" fill="#e8782c"/>
<text x="66.80" y="275.80" font-size="5.0" text-anchor="middle" fill="#2a1606" >SMS</text>
<ellipse cx="104.9" cy="271.1" rx="9.8" ry="6.2" fill="#e8782c"/>
<text x="104.90" y="273.20" font-size="5.0" text-anchor="middle" fill="#2a1606" >ARG2</text>
<ellipse cx="187.2" cy="254.8" rx="7.9" ry="5.9" fill="#e8782c"/>
<text x="187.20" y="256.90" font-size="5.0" text-anchor="middle" fill="#2a1606" >OTC</text>
<ellipse cx="134.1" cy="321.5" rx="9.9" ry="5.7" fill="#e8782c"/>
<text x="134.10" y="323.60" font-size="5.0" text-anchor="middle" fill="#2a1606" >ASL</text>
<ellipse cx="214.7" cy="329.0" rx="9.8" ry="5.5" fill="#e8782c"/>
<text x="214.70" y="331.10" font-size="5.0" text-anchor="middle" fill="#2a1606" >ASS1</text>
<circle cx="49.20" cy="260.20" r="1.85" fill="#ff0000"/>
<circle cx="53.75" cy="260.20" r="1.85" fill="#ff0000"/>
<circle cx="58.30" cy="260.20" r="1.85" fill="#ff0000"/>
<circle cx="62.85" cy="260.20" r="1.85" fill="#ff0000"/>
<circle cx="130.80" cy="261.60" r="1.85" fill="#ff0000"/>
<circle cx="135.35" cy="261.60" r="1.85" fill="#ff0000"/>
<circle cx="139.90" cy="261.60" r="1.85" fill="#ff0000"/>
<circle cx="144.45" cy="261.60" r="1.85" fill="#ff0000"/>
<circle cx="149.00" cy="261.60" r="1.85" fill="#ff0000"/>
<circle cx="189.00" cy="300.10" r="1.85" fill="#ff0000"/>
<circle cx="193.55" cy="300.10" r="1.85" fill="#ff0000"/>
<circle cx="198.10" cy="300.10" r="1.85" fill="#ff0000"/>
<circle cx="202.65" cy="300.10" r="1.85" fill="#ff0000"/>
<circle cx="207.20" cy="300.10" r="1.85" fill="#ff0000"/>
<circle cx="211.75" cy="300.10" r="1.85" fill="#000"/>
<circle cx="119.80" cy="311.10" r="1.85" fill="#ff0000"/>
<circle cx="124.35" cy="311.10" r="1.85" fill="#ff0000"/>
<circle cx="128.90" cy="311.10" r="1.85" fill="#ff0000"/>
<circle cx="133.45" cy="311.10" r="1.85" fill="#ff0000"/>
<circle cx="138.00" cy="311.10" r="1.85" fill="#ff0000"/>
<circle cx="142.55" cy="311.10" r="1.85" fill="#ff0000"/>
<circle cx="148.90" cy="351.10" r="1.85" fill="#ff0000"/>
<circle cx="153.45" cy="351.10" r="1.85" fill="#ff0000"/>
<circle cx="158.00" cy="351.10" r="1.85" fill="#ff0000"/>
<circle cx="162.55" cy="351.10" r="1.85" fill="#ff0000"/>
<circle cx="167.10" cy="351.10" r="1.85" fill="#ff0000"/>
<circle cx="171.65" cy="351.10" r="1.85" fill="#000"/>
<circle cx="176.20" cy="351.10" r="1.85" fill="#000"/>
<circle cx="180.75" cy="351.10" r="1.85" fill="#000"/>
<circle cx="185.30" cy="351.10" r="1.85" fill="#000"/>
<circle cx="180.70" cy="355.80" r="1.85" fill="#000"/>
<circle cx="180.70" cy="360.20" r="1.85" fill="#000"/>
<circle cx="97.30" cy="359.20" r="1.85" fill="#000"/>
<circle cx="101.85" cy="359.20" r="1.85" fill="#000"/>
<circle cx="106.40" cy="359.20" r="1.85" fill="#000"/>
<circle cx="110.95" cy="359.20" r="1.85" fill="#000"/>
<line x1="316.00" y1="228.20" x2="316.00" y2="363.70" stroke="#111" stroke-width="0.9" />
<line x1="316.00" y1="363.70" x2="518.80" y2="363.70" stroke="#111" stroke-width="0.9" />
<line x1="314.00" y1="363.70" x2="316.00" y2="363.70" stroke="#111" stroke-width="0.8" />
<text x="313.30" y="365.60" font-size="5.3" text-anchor="end" font-weight="bold" fill="#222"  stroke="#222" stroke-width="0.18">0</text>
<line x1="314.00" y1="336.66" x2="316.00" y2="336.66" stroke="#111" stroke-width="0.8" />
<text x="313.30" y="338.56" font-size="5.3" text-anchor="end" font-weight="bold" fill="#222"  stroke="#222" stroke-width="0.18">20</text>
<line x1="314.00" y1="309.62" x2="316.00" y2="309.62" stroke="#111" stroke-width="0.8" />
<text x="313.30" y="311.52" font-size="5.3" text-anchor="end" font-weight="bold" fill="#222"  stroke="#222" stroke-width="0.18">40</text>
<line x1="314.00" y1="282.58" x2="316.00" y2="282.58" stroke="#111" stroke-width="0.8" />
<text x="313.30" y="284.48" font-size="5.3" text-anchor="end" font-weight="bold" fill="#222"  stroke="#222" stroke-width="0.18">60</text>
<line x1="314.00" y1="255.54" x2="316.00" y2="255.54" stroke="#111" stroke-width="0.8" />
<text x="313.30" y="257.44" font-size="5.3" text-anchor="end" font-weight="bold" fill="#222"  stroke="#222" stroke-width="0.18">80</text>
<line x1="314.00" y1="228.50" x2="316.00" y2="228.50" stroke="#111" stroke-width="0.8" />
<text x="313.30" y="230.40" font-size="5.3" text-anchor="end" font-weight="bold" fill="#222"  stroke="#222" stroke-width="0.18">100</text>
<rect x="324.50" y="236.61" width="15.80" height="127.09" fill="#000" stroke="none" stroke-width="0" />
<rect x="342.50" y="236.07" width="15.80" height="127.63" fill="#b0b0b0" stroke="none" stroke-width="0" />
<text x="341.40" y="370.60" font-size="5.8" text-anchor="middle" font-weight="bold" fill="#111"  stroke="#111" stroke-width="0.18">Arginine(M+6)</text>
<rect x="375.00" y="246.08" width="15.80" height="117.62" fill="#000" stroke="none" stroke-width="0" />
<rect x="393.20" y="237.96" width="15.80" height="125.74" fill="#b0b0b0" stroke="none" stroke-width="0" />
<text x="392.00" y="370.60" font-size="5.8" text-anchor="middle" font-weight="bold" fill="#111"  stroke="#111" stroke-width="0.18">Ornithine(M+5)</text>
<text x="401.10" y="238.56" font-size="6.3" text-anchor="middle" font-weight="bold" fill="#555"  stroke="#555" stroke-width="0.18">****</text>
<rect x="426.20" y="258.24" width="15.80" height="105.46" fill="#000" stroke="none" stroke-width="0" />
<rect x="444.30" y="247.43" width="15.80" height="116.27" fill="#b0b0b0" stroke="none" stroke-width="0" />
<text x="443.15" y="370.60" font-size="5.8" text-anchor="middle" font-weight="bold" fill="#111"  stroke="#111" stroke-width="0.18">Putrescine(M+4)</text>
<text x="452.20" y="248.03" font-size="6.3" text-anchor="middle" font-weight="bold" fill="#555"  stroke="#555" stroke-width="0.18">***</text>
<rect x="477.30" y="297.05" width="15.80" height="66.65" fill="#000" stroke="none" stroke-width="0" />
<rect x="495.20" y="245.40" width="15.80" height="118.30" fill="#b0b0b0" stroke="none" stroke-width="0" />
<text x="494.15" y="370.60" font-size="5.8" text-anchor="middle" font-weight="bold" fill="#111"  stroke="#111" stroke-width="0.18">Citrulline(M+5)</text>
<text x="503.10" y="246.00" font-size="6.3" text-anchor="middle" font-weight="bold" fill="#555"  stroke="#555" stroke-width="0.18">****</text>
<line x1="485.10" y1="297.05" x2="485.10" y2="294.75" stroke="#000" stroke-width="0.8" />
<line x1="481.20" y1="294.75" x2="489.00" y2="294.75" stroke="#000" stroke-width="0.9" />
<line x1="433.40" y1="258.24" x2="433.40" y2="256.89" stroke="#000" stroke-width="0.8" />
<line x1="430.60" y1="256.89" x2="436.20" y2="256.89" stroke="#000" stroke-width="0.8" />
<line x1="379.00" y1="245.81" x2="387.00" y2="245.81" stroke="#000" stroke-width="0.8" />
<rect x="454.80" y="221.40" width="8.00" height="5.00" fill="#000" stroke="none" stroke-width="0" />
<text x="466.00" y="226.30" font-size="5.8" text-anchor="start" font-weight="bold" fill="#111"  stroke="#111" stroke-width="0.18">786-O-Control</text>
<rect x="454.80" y="229.50" width="8.00" height="5.00" fill="#b0b0b0" stroke="none" stroke-width="0" />
<text x="466.00" y="234.40" font-size="5.8" text-anchor="start" font-weight="bold" fill="#111"  stroke="#111" stroke-width="0.18">786-O-CA9-KD</text>
<text transform="translate(298.1,297.75) rotate(-90)" font-size="5.5" font-weight="bold" text-anchor="middle" fill="#222" textLength="116.3" lengthAdjust="spacingAndGlyphs">Isotope Abundance from [<tspan font-size="3.6" dy="-1.8">13</tspan><tspan dy="1.8">C</tspan><tspan font-size="3.6" dy="1.2">6</tspan><tspan dy="-1.2">]Arginine  (%)</tspan></text>
<line x1="24.30" y1="415.70" x2="24.30" y2="501.70" stroke="#111" stroke-width="0.9" />
<line x1="24.30" y1="501.70" x2="152.90" y2="501.70" stroke="#111" stroke-width="0.9" />
<line x1="22.40" y1="501.70" x2="24.30" y2="501.70" stroke="#111" stroke-width="0.8" />
<text x="21.90" y="503.60" font-size="5.3" text-anchor="end" font-weight="bold" fill="#222"  stroke="#222" stroke-width="0.18">0.0</text>
<line x1="22.40" y1="484.54" x2="24.30" y2="484.54" stroke="#111" stroke-width="0.8" />
<text x="21.90" y="486.44" font-size="5.3" text-anchor="end" font-weight="bold" fill="#222"  stroke="#222" stroke-width="0.18">0.5</text>
<line x1="22.40" y1="467.38" x2="24.30" y2="467.38" stroke="#111" stroke-width="0.8" />
<text x="21.90" y="469.28" font-size="5.3" text-anchor="end" font-weight="bold" fill="#222"  stroke="#222" stroke-width="0.18">1.0</text>
<line x1="22.40" y1="450.22" x2="24.30" y2="450.22" stroke="#111" stroke-width="0.8" />
<text x="21.90" y="452.12" font-size="5.3" text-anchor="end" font-weight="bold" fill="#222"  stroke="#222" stroke-width="0.18">1.5</text>
<line x1="22.40" y1="433.06" x2="24.30" y2="433.06" stroke="#111" stroke-width="0.8" />
<text x="21.90" y="434.96" font-size="5.3" text-anchor="end" font-weight="bold" fill="#222"  stroke="#222" stroke-width="0.18">2.0</text>
<line x1="22.40" y1="415.90" x2="24.30" y2="415.90" stroke="#111" stroke-width="0.8" />
<text x="21.90" y="417.80" font-size="5.3" text-anchor="end" font-weight="bold" fill="#222"  stroke="#222" stroke-width="0.18">2.5</text>
<rect x="31.50" y="435.12" width="29.20" height="66.58" fill="#000" stroke="none" stroke-width="0" />
<line x1="46.10" y1="435.12" x2="46.10" y2="432.37" stroke="#000" stroke-width="0.8" />
<line x1="39.10" y1="432.37" x2="53.10" y2="432.37" stroke="#000" stroke-width="0.9" />
<line x1="46.10" y1="501.70" x2="46.10" y2="503.20" stroke="#111" stroke-width="0.8" />
<text x="46.10" y="509.60" font-size="5.4" text-anchor="middle" font-weight="bold" fill="#111"  stroke="#111" stroke-width="0.18">ARG2</text>
<rect x="74.20" y="482.14" width="29.20" height="19.56" fill="#000" stroke="none" stroke-width="0" />
<line x1="88.80" y1="482.14" x2="88.80" y2="481.62" stroke="#000" stroke-width="0.8" />
<line x1="81.80" y1="481.62" x2="95.80" y2="481.62" stroke="#000" stroke-width="0.9" />
<line x1="88.80" y1="501.70" x2="88.80" y2="503.20" stroke="#111" stroke-width="0.8" />
<text x="88.80" y="509.60" font-size="5.4" text-anchor="middle" font-weight="bold" fill="#111"  stroke="#111" stroke-width="0.18">ASS1</text>
<rect x="117.20" y="483.17" width="29.20" height="18.53" fill="#000" stroke="none" stroke-width="0" />
<line x1="131.80" y1="483.17" x2="131.80" y2="482.65" stroke="#000" stroke-width="0.8" />
<line x1="124.80" y1="482.65" x2="138.80" y2="482.65" stroke="#000" stroke-width="0.9" />
<line x1="131.80" y1="501.70" x2="131.80" y2="503.20" stroke="#111" stroke-width="0.8" />
<text x="131.80" y="509.60" font-size="5.4" text-anchor="middle" font-weight="bold" fill="#111"  stroke="#111" stroke-width="0.18">ASL</text>
<text transform="translate(8.2,455.8) rotate(-90)" font-size="5.2" font-weight="bold" text-anchor="middle" fill="#222" textLength="80" lengthAdjust="spacingAndGlyphs" xml:space="preserve">Fold Change  (CA9-KD/Control )</text>
<text x="231.20" y="406.20" font-size="6.9" text-anchor="middle" font-weight="bold" fill="#111" >786-O</text>
<line x1="201.10" y1="408.70" x2="253.20" y2="408.70" stroke="#888" stroke-width="1.0" />
<text transform="translate(217.0,438.0) rotate(-58)" font-size="6.9" font-weight="bold" fill="#111">Control</text>
<text transform="translate(241.8,436.3) rotate(-58)" font-size="6.9" font-weight="bold" fill="#111">CA9-KD</text>
<rect x="200.30" y="440.30" width="52.60" height="19.80" fill="#f2f2f2" stroke="#333" stroke-width="0.8" />
<rect x="205.3" y="446.0" width="18.69999999999999" height="6.399999999999977" rx="3.1999999999999886" ry="3.1999999999999886" fill="#000" fill-opacity="0.55" filter="url(#bl)"/>
<rect x="225.8" y="445.6" width="21.299999999999983" height="7.599999999999966" rx="3.799999999999983" ry="3.799999999999983" fill="#000" fill-opacity="1.0" filter="url(#bl)"/>
<rect x="200.30" y="463.40" width="52.60" height="17.90" fill="#f2f2f2" stroke="#333" stroke-width="0.8" />
<rect x="207.5" y="467.0" width="20.0" height="9.399999999999977" rx="4" ry="4.699999999999989" fill="#000" fill-opacity="1.0" filter="url(#bl)"/>
<rect x="225.0" y="466.8" width="20.900000000000006" height="8.999999999999943" rx="4" ry="4.499999999999972" fill="#000" fill-opacity="1.0" filter="url(#bl)"/>
<text x="180.90" y="452.00" font-size="7.0" text-anchor="middle" font-weight="bold" fill="#111" >ARG2</text>
<text x="180.40" y="474.70" font-size="7.0" text-anchor="middle" font-weight="bold" fill="#111" >β-actin</text>
<text x="327.20" y="403.30" font-size="6.9" text-anchor="middle" font-weight="bold" fill="#111" >786-O</text>
<line x1="304.20" y1="406.20" x2="350.20" y2="406.20" stroke="#888" stroke-width="1.0" />
<text transform="translate(316.3,435.6) rotate(-58)" font-size="6.9" font-weight="bold" fill="#111">Control</text>
<text transform="translate(339.2,434.4) rotate(-58)" font-size="6.9" font-weight="bold" fill="#111">CA9-KD</text>
<rect x="302.40" y="438.70" width="47.00" height="17.60" fill="#f2f2f2" stroke="#333" stroke-width="0.8" />
<path d="M305.8,448.85 Q308.65000000000003,446.735 322.45000000000005,446.5 A2.3499999999999943,2.3499999999999943 0 0 1 322.45000000000005,451.2 Q308.65000000000003,450.965 305.8,448.85 Z" fill="#000" fill-opacity="0.9" filter="url(#bl)"/>
<rect x="326.5" y="445.0" width="19.19999999999999" height="6.599999999999966" rx="3.299999999999983" ry="3.299999999999983" fill="#000" fill-opacity="1.0" filter="url(#bl)"/>
<rect x="302.40" y="461.90" width="47.00" height="15.50" fill="#f2f2f2" stroke="#333" stroke-width="0.8" />
<rect x="306.2" y="467.1" width="20.0" height="6.399999999999977" rx="3.1999999999999886" ry="3.1999999999999886" fill="#000" fill-opacity="1.0" filter="url(#bl)"/>
<rect x="327.0" y="467.0" width="19.30000000000001" height="5.199999999999989" rx="2.5999999999999943" ry="2.5999999999999943" fill="#000" fill-opacity="1.0" filter="url(#bl)"/>
<rect x="302.40" y="480.00" width="47.00" height="17.40" fill="#c4c4c4" stroke="#333" stroke-width="0.8" />
<rect x="304.9" y="486.8" width="18.100000000000023" height="7.7999999999999545" rx="3.8999999999999773" ry="3.8999999999999773" fill="#000" fill-opacity="1.0" filter="url(#bl)"/>
<rect x="325.5" y="487.6" width="19.0" height="5.999999999999943" rx="2.9999999999999716" ry="2.9999999999999716" fill="#000" fill-opacity="0.3" filter="url(#bl)"/>
<rect x="302.40" y="502.40" width="47.00" height="18.10" fill="#f2f2f2" stroke="#333" stroke-width="0.8" />
<rect x="306.2" y="507.3" width="19.5" height="7.199999999999989" rx="3.5999999999999943" ry="3.5999999999999943" fill="#000" fill-opacity="1.0" filter="url(#bl)"/>
<rect x="327.4" y="506.5" width="18.600000000000023" height="6.899999999999977" rx="3.4499999999999886" ry="3.4499999999999886" fill="#000" fill-opacity="1.0" filter="url(#bl)"/>
<text x="284.40" y="451.50" font-size="6.9" text-anchor="middle" font-weight="bold" fill="#111" >ODC</text>
<text x="284.20" y="472.80" font-size="6.9" text-anchor="middle" font-weight="bold" fill="#111" >ASL</text>
<text x="285.00" y="495.20" font-size="6.9" text-anchor="middle" font-weight="bold" fill="#111" >ASS1</text>
<text x="286.30" y="512.80" font-size="7.0" text-anchor="middle" font-weight="bold" fill="#111" >β-actin</text>
<text x="470.90" y="406.80" font-size="6.7" text-anchor="middle" fill="#222" >786-O treated with putrescine</text>
<line x1="406.50" y1="413.80" x2="406.50" y2="505.00" stroke="#111" stroke-width="0.9" />
<line x1="406.50" y1="505.00" x2="548.60" y2="505.00" stroke="#111" stroke-width="0.9" />
<line x1="404.50" y1="505.00" x2="406.50" y2="505.00" stroke="#111" stroke-width="0.8" />
<text x="404.10" y="507.00" font-size="5.6" text-anchor="end" font-weight="bold" fill="#222"  stroke="#222" stroke-width="0.18">0.00</text>
<line x1="404.50" y1="482.38" x2="406.50" y2="482.38" stroke="#111" stroke-width="0.8" />
<text x="404.10" y="484.38" font-size="5.6" text-anchor="end" font-weight="bold" fill="#222"  stroke="#222" stroke-width="0.18">0.02</text>
<line x1="404.50" y1="459.75" x2="406.50" y2="459.75" stroke="#111" stroke-width="0.8" />
<text x="404.10" y="461.75" font-size="5.6" text-anchor="end" font-weight="bold" fill="#222"  stroke="#222" stroke-width="0.18">0.04</text>
<line x1="404.50" y1="437.12" x2="406.50" y2="437.12" stroke="#111" stroke-width="0.8" />
<text x="404.10" y="439.12" font-size="5.6" text-anchor="end" font-weight="bold" fill="#222"  stroke="#222" stroke-width="0.18">0.06</text>
<line x1="404.50" y1="414.50" x2="406.50" y2="414.50" stroke="#111" stroke-width="0.8" />
<text x="404.10" y="416.50" font-size="5.6" text-anchor="end" font-weight="bold" fill="#222"  stroke="#222" stroke-width="0.18">0.08</text>
<line x1="406.50" y1="505.00" x2="406.50" y2="506.80" stroke="#111" stroke-width="0.8" />
<text x="406.50" y="513.40" font-size="5.6" text-anchor="middle" font-weight="bold" fill="#222"  stroke="#222" stroke-width="0.18">0.0</text>
<line x1="433.80" y1="505.00" x2="433.80" y2="506.80" stroke="#111" stroke-width="0.8" />
<text x="433.80" y="513.40" font-size="5.6" text-anchor="middle" font-weight="bold" fill="#222"  stroke="#222" stroke-width="0.18">0.5</text>
<line x1="461.10" y1="505.00" x2="461.10" y2="506.80" stroke="#111" stroke-width="0.8" />
<text x="461.10" y="513.40" font-size="5.6" text-anchor="middle" font-weight="bold" fill="#222"  stroke="#222" stroke-width="0.18">1.0</text>
<line x1="488.40" y1="505.00" x2="488.40" y2="506.80" stroke="#111" stroke-width="0.8" />
<text x="488.40" y="513.40" font-size="5.6" text-anchor="middle" font-weight="bold" fill="#222"  stroke="#222" stroke-width="0.18">1.5</text>
<line x1="515.70" y1="505.00" x2="515.70" y2="506.80" stroke="#111" stroke-width="0.8" />
<text x="515.70" y="513.40" font-size="5.6" text-anchor="middle" font-weight="bold" fill="#222"  stroke="#222" stroke-width="0.18">2.0</text>
<line x1="543.00" y1="505.00" x2="543.00" y2="506.80" stroke="#111" stroke-width="0.8" />
<text x="543.00" y="513.40" font-size="5.6" text-anchor="middle" font-weight="bold" fill="#222"  stroke="#222" stroke-width="0.18">2.5</text>
<path d="M422.88,429.21 L455.64,443.35 L472.02,463.14 L488.40,481.24 L504.78,498.78 L521.16,503.87 L537.54,503.87" fill="none" stroke="#000" stroke-width="1.1"/>
<line x1="422.88" y1="439.39" x2="422.88" y2="419.02" stroke="#000" stroke-width="0.7" />
<line x1="420.08" y1="439.39" x2="425.68" y2="439.39" stroke="#000" stroke-width="0.8" />
<line x1="420.08" y1="419.02" x2="425.68" y2="419.02" stroke="#000" stroke-width="0.8" />
<rect x="421.38" y="427.71" width="3.00" height="3.00" fill="#000" stroke="none" stroke-width="0" />
<line x1="455.64" y1="444.70" x2="455.64" y2="441.99" stroke="#000" stroke-width="0.7" />
<line x1="452.84" y1="444.70" x2="458.44" y2="444.70" stroke="#000" stroke-width="0.8" />
<line x1="452.84" y1="441.99" x2="458.44" y2="441.99" stroke="#000" stroke-width="0.8" />
<rect x="454.14" y="441.85" width="3.00" height="3.00" fill="#000" stroke="none" stroke-width="0" />
<line x1="472.02" y1="469.93" x2="472.02" y2="456.36" stroke="#000" stroke-width="0.7" />
<line x1="469.22" y1="469.93" x2="474.82" y2="469.93" stroke="#000" stroke-width="0.8" />
<line x1="469.22" y1="456.36" x2="474.82" y2="456.36" stroke="#000" stroke-width="0.8" />
<rect x="470.52" y="461.64" width="3.00" height="3.00" fill="#000" stroke="none" stroke-width="0" />
<line x1="488.40" y1="484.64" x2="488.40" y2="477.85" stroke="#000" stroke-width="0.7" />
<line x1="485.60" y1="484.64" x2="491.20" y2="484.64" stroke="#000" stroke-width="0.8" />
<line x1="485.60" y1="477.85" x2="491.20" y2="477.85" stroke="#000" stroke-width="0.8" />
<rect x="486.90" y="479.74" width="3.00" height="3.00" fill="#000" stroke="none" stroke-width="0" />
<line x1="504.78" y1="499.34" x2="504.78" y2="498.21" stroke="#000" stroke-width="0.7" />
<line x1="501.98" y1="499.34" x2="507.58" y2="499.34" stroke="#000" stroke-width="0.8" />
<line x1="501.98" y1="498.21" x2="507.58" y2="498.21" stroke="#000" stroke-width="0.8" />
<rect x="503.28" y="497.28" width="3.00" height="3.00" fill="#000" stroke="none" stroke-width="0" />
<line x1="521.16" y1="504.21" x2="521.16" y2="503.53" stroke="#000" stroke-width="0.7" />
<line x1="518.36" y1="504.21" x2="523.96" y2="504.21" stroke="#000" stroke-width="0.8" />
<line x1="518.36" y1="503.53" x2="523.96" y2="503.53" stroke="#000" stroke-width="0.8" />
<rect x="519.66" y="502.37" width="3.00" height="3.00" fill="#000" stroke="none" stroke-width="0" />
<line x1="537.54" y1="504.21" x2="537.54" y2="503.53" stroke="#000" stroke-width="0.7" />
<line x1="534.74" y1="504.21" x2="540.34" y2="504.21" stroke="#000" stroke-width="0.8" />
<line x1="534.74" y1="503.53" x2="540.34" y2="503.53" stroke="#000" stroke-width="0.8" />
<rect x="536.04" y="502.37" width="3.00" height="3.00" fill="#000" stroke="none" stroke-width="0" />
<line x1="521.16" y1="503.87" x2="537.54" y2="503.87" stroke="#444" stroke-width="2.2" />
<text x="475.7" y="524.2" font-size="5.4" font-weight="bold" text-anchor="middle" fill="#111" textLength="66.8" lengthAdjust="spacingAndGlyphs">Putrescine ( log<tspan font-size="3.6" dy="1.2">10</tspan><tspan dy="-1.2"> ( mM ) )</tspan></text>
<text transform="translate(384.3,461.2) rotate(-90)" font-size="5.8" font-weight="bold" text-anchor="middle" fill="#222" textLength="59.7" lengthAdjust="spacingAndGlyphs">Absorbance at 450 nm</text></svg>
</body></html>
